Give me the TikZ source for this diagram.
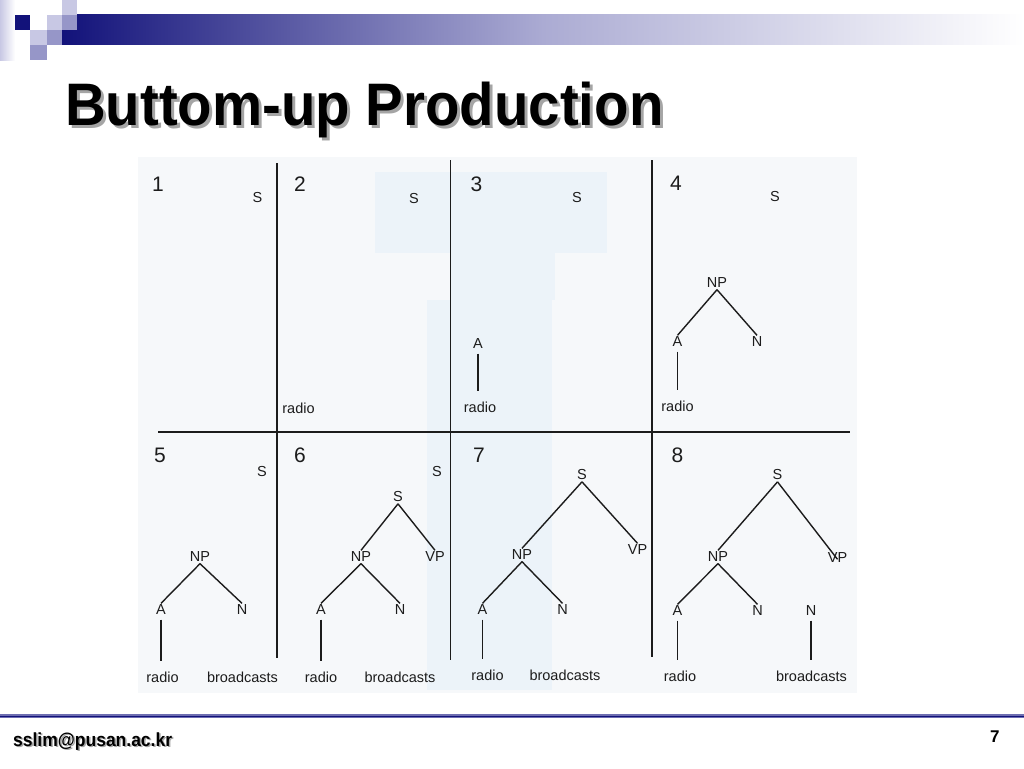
\documentclass[tikz,border=0pt]{standalone}
\usepackage{fontspec}
\setmainfont{Liberation Sans}
\usepackage{graphicx}
\usepackage{tikz}

\definecolor{navy}{RGB}{18,18,122}
\definecolor{lav}{RGB}{200,200,228}
\definecolor{midlav}{RGB}{150,150,200}
\definecolor{ink}{RGB}{28,28,28}
\definecolor{scanbg}{RGB}{246,248,250}
\definecolor{scanblue}{RGB}{236,243,249}
\definecolor{shadowgray}{RGB}{165,165,165}

\newcommand{\narrow}[2]{\scalebox{#1}[1]{#2}}

\begin{document}
\begin{tikzpicture}[x=1pt, y=-1pt,
  lbl/.style={font=\fontsize{14.5}{14.5}\selectfont, text=ink, inner sep=1.5pt},
  num/.style={font=\fontsize{21}{21}\selectfont, text=ink, inner sep=0pt},
  titletext/.style={font=\fontsize{60}{60}\selectfont\bfseries, inner sep=0pt, anchor=base west},
  foottext/.style={font=\fontsize{19}{19}\selectfont\bfseries, inner sep=0pt, anchor=base west},
  rule/.style={draw=ink, line width=1.4pt},
  branch/.style={draw=ink, line width=1.4pt},
  stem/.style={branch, line width=1.2pt, shorten <=3pt, shorten >=9pt}]
  \useasboundingbox (0,0) rectangle (1024,768);
  \fill[white] (0,0) rectangle (1024,768);

  \shade[left color=lav, right color=white] (  0,  0) rectangle ( 15, 60);
  \shade[left color=navy, right color=white, middle color=midlav!80!white]
                 ( 62, 15) rectangle (1024, 45);
  \fill[navy]    ( 15, 15) rectangle ( 30, 30);
  \fill[lav]     ( 47, 15) rectangle ( 62, 30);
  \fill[lav]     ( 62,  0) rectangle ( 77, 15);
  \fill[lav]     ( 30, 30) rectangle ( 47, 45);
  \fill[midlav]  ( 62, 15) rectangle ( 77, 30);
  \fill[midlav]  ( 47, 30) rectangle ( 62, 45);
  \fill[midlav]  ( 30, 45) rectangle ( 47, 60);

  \node[titletext, text=shadowgray] (titleshadow) at (68,128) {\narrow{0.94}{Buttom-up Production}};
  \node[titletext]                  (title)       at (65,125) {\narrow{0.94}{Buttom-up Production}};

  \fill[scanbg]   (138, 157) rectangle (857, 693);
  \fill[scanblue] (375, 172) rectangle (607, 253);
  \fill[scanblue] (450, 253) rectangle (555, 300);
  \fill[scanblue] (427, 300) rectangle (552, 690);

  \draw[rule]    (158, 432) -- (850, 432);
  \draw[rule]    (277, 163) -- (277, 658);
  \draw[rule]    (450.5, 160) -- (450.5, 660);
  \draw[rule]    (652, 160) -- (652, 657);

  \node[num] (n1) at (158, 184.5) {1};
  \node[num] (n2) at (300, 184.5) {2};
  \node[num] (n3) at (476.5, 184.5) {3};
  \node[num] (n4) at (676, 183.5) {4};
  \node[num] (n5) at (160, 455.5) {5};
  \node[num] (n6) at (300, 455.5) {6};
  \node[num] (n7) at (479, 455.5) {7};
  \node[num] (n8) at (677.5, 455.5) {8};

  \node[lbl] (s1) at (257.5, 197.5) {S};

  \node[lbl] (s2)     at (414, 199)   {S};
  \node[lbl] (radio2) at (298.5, 408) {radio};

  \node[lbl] (s3)     at (577, 197.5) {S};
  \node[lbl] (a3)     at (478, 344)   {A};
  \node[lbl] (radio3) at (480, 407)   {radio};
  \draw[stem] (a3.south) -- (a3.south |- radio3.north);

  \node[lbl] (s4)     at (775, 197)   {S};
  \node[lbl] (np4)    at (717, 283)   {NP};
  \node[lbl] (a4)     at (677.5, 342) {A};
  \node[lbl] (nn4)    at (757, 342)   {N};
  \node[lbl] (radio4) at (677.5, 406) {radio};
  \draw[branch] (np4.south) -- (a4.north);
  \draw[branch] (np4.south) -- (nn4.north);
  \draw[stem] (a4.south) -- (a4.south |- radio4.north);

  \node[lbl] (s5)     at (262, 472)     {S};
  \node[lbl] (np5)    at (200, 557)     {NP};
  \node[lbl] (a5)     at (161, 610)     {A};
  \node[lbl] (nn5)    at (242, 610)     {N};
  \node[lbl] (radio5) at (162.5, 677.5) {radio};
  \node[lbl] (bc5)    at (242.5, 677.5) {broadcasts};
  \draw[branch] (np5.south) -- (a5.north);
  \draw[branch] (np5.south) -- (nn5.north);
  \draw[stem] (a5.south) -- (a5.south |- radio5.north);

  \node[lbl] (s6)     at (437, 472)   {S};
  \node[lbl] (top6)   at (398, 497)   {S};
  \node[lbl] (np6)    at (361, 557)   {NP};
  \node[lbl] (vp6)    at (435, 557)   {VP};
  \node[lbl] (a6)     at (321, 610)   {A};
  \node[lbl] (nn6)    at (400, 610)   {N};
  \node[lbl] (radio6) at (321, 677.5) {radio};
  \node[lbl] (bc6)    at (400, 677.5) {broadcasts};
  \draw[branch] (top6.south) -- (np6.north);
  \draw[branch] (top6.south) -- (vp6.north);
  \draw[branch] (np6.south) -- (a6.north);
  \draw[branch] (np6.south) -- (nn6.north);
  \draw[stem] (a6.south) -- (a6.south |- radio6.north);

  \node[lbl] (s7)     at (582, 475)   {S};
  \node[lbl] (np7)    at (522, 555)   {NP};
  \node[lbl] (vp7)    at (637.5, 550) {VP};
  \node[lbl] (a7)     at (482.5, 610) {A};
  \node[lbl] (nn7)    at (562.5, 610) {N};
  \node[lbl] (radio7) at (487.5, 675) {radio};
  \node[lbl] (bc7)    at (565, 675)   {broadcasts};
  \draw[branch] (s7.south) -- (np7.north);
  \draw[branch] (s7.south) -- (vp7.north);
  \draw[branch] (np7.south) -- (a7.north);
  \draw[branch] (np7.south) -- (nn7.north);
  \draw[stem] (a7.south) -- (a7.south |- radio7.north);

  \node[lbl] (s8)     at (777.5, 475) {S};
  \node[lbl] (np8)    at (718, 557)   {NP};
  \node[lbl] (vp8)    at (837.5, 558) {VP};
  \node[lbl] (a8)     at (677.5, 611) {A};
  \node[lbl] (nn8)    at (757.5, 611) {N};
  \node[lbl] (nb8)    at (811, 611)   {N};
  \node[lbl] (radio8) at (680, 676)   {radio};
  \node[lbl] (bc8)    at (811.5, 676) {broadcasts};
  \draw[branch] (s8.south) -- (np8.north);
  \draw[branch] (s8.south) -- ([yshift=-8pt]vp8.north);
  \draw[branch] (np8.south) -- (a8.north);
  \draw[branch] (np8.south) -- (nn8.north);
  \draw[stem] (a8.south) -- (a8.south |- radio8.north);
  \draw[stem] (nb8.south) -- (nb8.south |- bc8.north);

  \draw[midlav!70!navy, line width=4pt] (0,716) -- (1024,716);
  \draw[navy, line width=1.6pt]         (0,716.5) -- (1024,716.5);

  \node[foottext, text=shadowgray] (mailshadow) at (14.5,747.5) {\narrow{0.92}{sslim@pusan.ac.kr}};
  \node[foottext]                  (mail)       at (13,746)     {\narrow{0.92}{sslim@pusan.ac.kr}};
  \node[foottext, font=\fontsize{17}{17}\selectfont\bfseries] (page) at (990,742) {7};
\end{tikzpicture}
\end{document}
